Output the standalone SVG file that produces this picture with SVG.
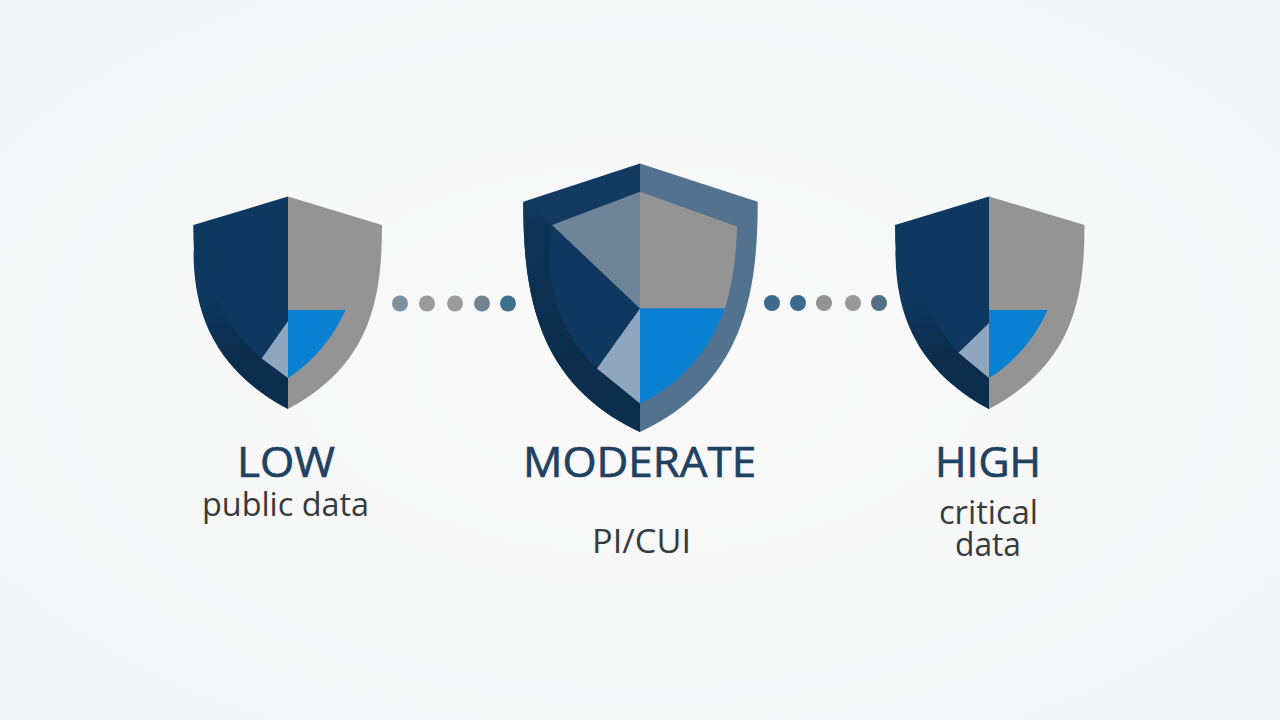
<svg xmlns="http://www.w3.org/2000/svg" width="1280" height="720" viewBox="0 0 1280 720">
<defs>
<radialGradient id="bg" cx="50%" cy="50%" r="70%"><stop offset="0" stop-color="#f9f9f9"/><stop offset="1" stop-color="#f4f5f6"/></radialGradient>
<linearGradient id="band" x1="0" y1="0" x2="0.35" y2="1"><stop offset="0" stop-color="#0e3860"/><stop offset="0.3" stop-color="#0e3860"/><stop offset="0.75" stop-color="#0c2c4b"/><stop offset="1" stop-color="#0c2e4e"/></linearGradient>
<linearGradient id="bandM" x1="0" y1="0" x2="0.35" y2="1"><stop offset="0" stop-color="#123a60"/><stop offset="0.15" stop-color="#0d3356"/><stop offset="0.7" stop-color="#0c2c4b"/><stop offset="1" stop-color="#0c2e4e"/></linearGradient>
</defs>
<style>
.navy{fill:#0e3860}.band{fill:url(#band)}.bandM{fill:url(#bandM)}.grey{fill:#949494}.blue{fill:#0a80d2}.light{fill:#8fa6be}
.rimL{fill:#123a60}.rimR{fill:#537290}.slate{fill:#6e8499}
.h{font-family:"Open Sans","Noto Sans",sans-serif;font-size:42px;font-weight:400;fill:#1f4263;stroke:#1f4263;stroke-width:0.7px;text-anchor:middle}
.s{font-family:"Open Sans","Noto Sans",sans-serif;font-size:32px;fill:#363b40;text-anchor:middle}
</style>
<rect width="1280" height="720" fill="url(#bg)"/>
<g id="connectors">
<circle cx="400" cy="303.500" r="8" fill="#7f929f"/><circle cx="427" cy="303.500" r="8" fill="#9a9a9a"/><circle cx="455" cy="303.500" r="8" fill="#9a9a9a"/><circle cx="482" cy="303.500" r="8" fill="#72838f"/><circle cx="508" cy="303.500" r="8" fill="#40708f"/>
<circle cx="772" cy="303" r="8" fill="#3f6b8a"/><circle cx="798" cy="303" r="8" fill="#3a6a90"/><circle cx="824" cy="303" r="8" fill="#939393"/><circle cx="853" cy="303" r="8" fill="#999999"/><circle cx="879" cy="303" r="8" fill="#566f85"/>
</g>
<g id="node-low">
<path class="navy" d="M288 196.500L193.300 225C193.500 300 205 365 288 409Z"/>
<path class="band" d="M193.500 250C199 275 210 295 222 306C228 325 245 345 262 358.500L288 378V409C205 365 193.500 300 193.500 250Z"/>
<path class="grey" d="M288 196.500L382 225C382 300 370 365 288 409Z"/>
<path class="blue" d="M288 310H345.500C333 338 313 362 288 378Z"/>
<path class="light" d="M288 321L261.700 358.500L288 378Z"/>
<text class="h" x="286" y="477" textLength="98" lengthAdjust="spacingAndGlyphs">LOW</text>
<text class="s" x="285.500" y="516" textLength="167" lengthAdjust="spacingAndGlyphs">public data</text>
</g>
<g id="node-moderate">
<path class="rimL" d="M640 163.500L523.300 201.700C523 300 540 385 640 432Z"/>
<path class="bandM" d="M523.300 201.700L552 225C543 280 560 335 597 368.500L640 403V432C540 385 523 300 523.300 201.700Z"/>
<path class="rimR" d="M640 163.500L757.700 201.700C758 300 740 385 640 432Z"/>
<path class="navy" d="M552 225L640 308.500L597 368.500C560 335 543 280 552 225Z"/>
<path class="slate" d="M552 225L640 191.700V308.500Z"/>
<path class="grey" d="M640 191.700L737 226.500C736 260 732 285 725 308.500H640Z"/>
<path class="blue" d="M640 308.500H725C710 350 680 385 640 403.500Z"/>
<path class="light" d="M640 308.500L597 368.500L640 403.500Z"/>
<text class="h" x="639.500" y="477" textLength="233" lengthAdjust="spacingAndGlyphs">MODERATE</text>
<text class="s" x="641.500" y="553" textLength="99" lengthAdjust="spacingAndGlyphs">PI/CUI</text>
</g>
<g id="node-high">
<path class="navy" d="M989 196.500L895 225C895 300 907 365 989 409Z"/>
<path class="band" d="M895.500 250C901 275 915 295 929 306C935 320 945 340 958.500 352.700L989 378V409C907 365 895.500 300 895.500 250Z"/>
<path class="grey" d="M989 196.500L1084.500 225C1084.500 300 1072 365 989 409Z"/>
<path class="blue" d="M989 310H1047.500C1035 338 1015 362 989 378Z"/>
<path class="light" d="M989 323L958.500 352.700L989 378Z"/>
<text class="h" x="988" y="477" textLength="106" lengthAdjust="spacingAndGlyphs">HIGH</text>
<text class="s" x="988.500" y="524" textLength="99" lengthAdjust="spacingAndGlyphs">critical</text>
<text class="s" x="988" y="556" textLength="66" lengthAdjust="spacingAndGlyphs">data</text>
</g>
</svg>
